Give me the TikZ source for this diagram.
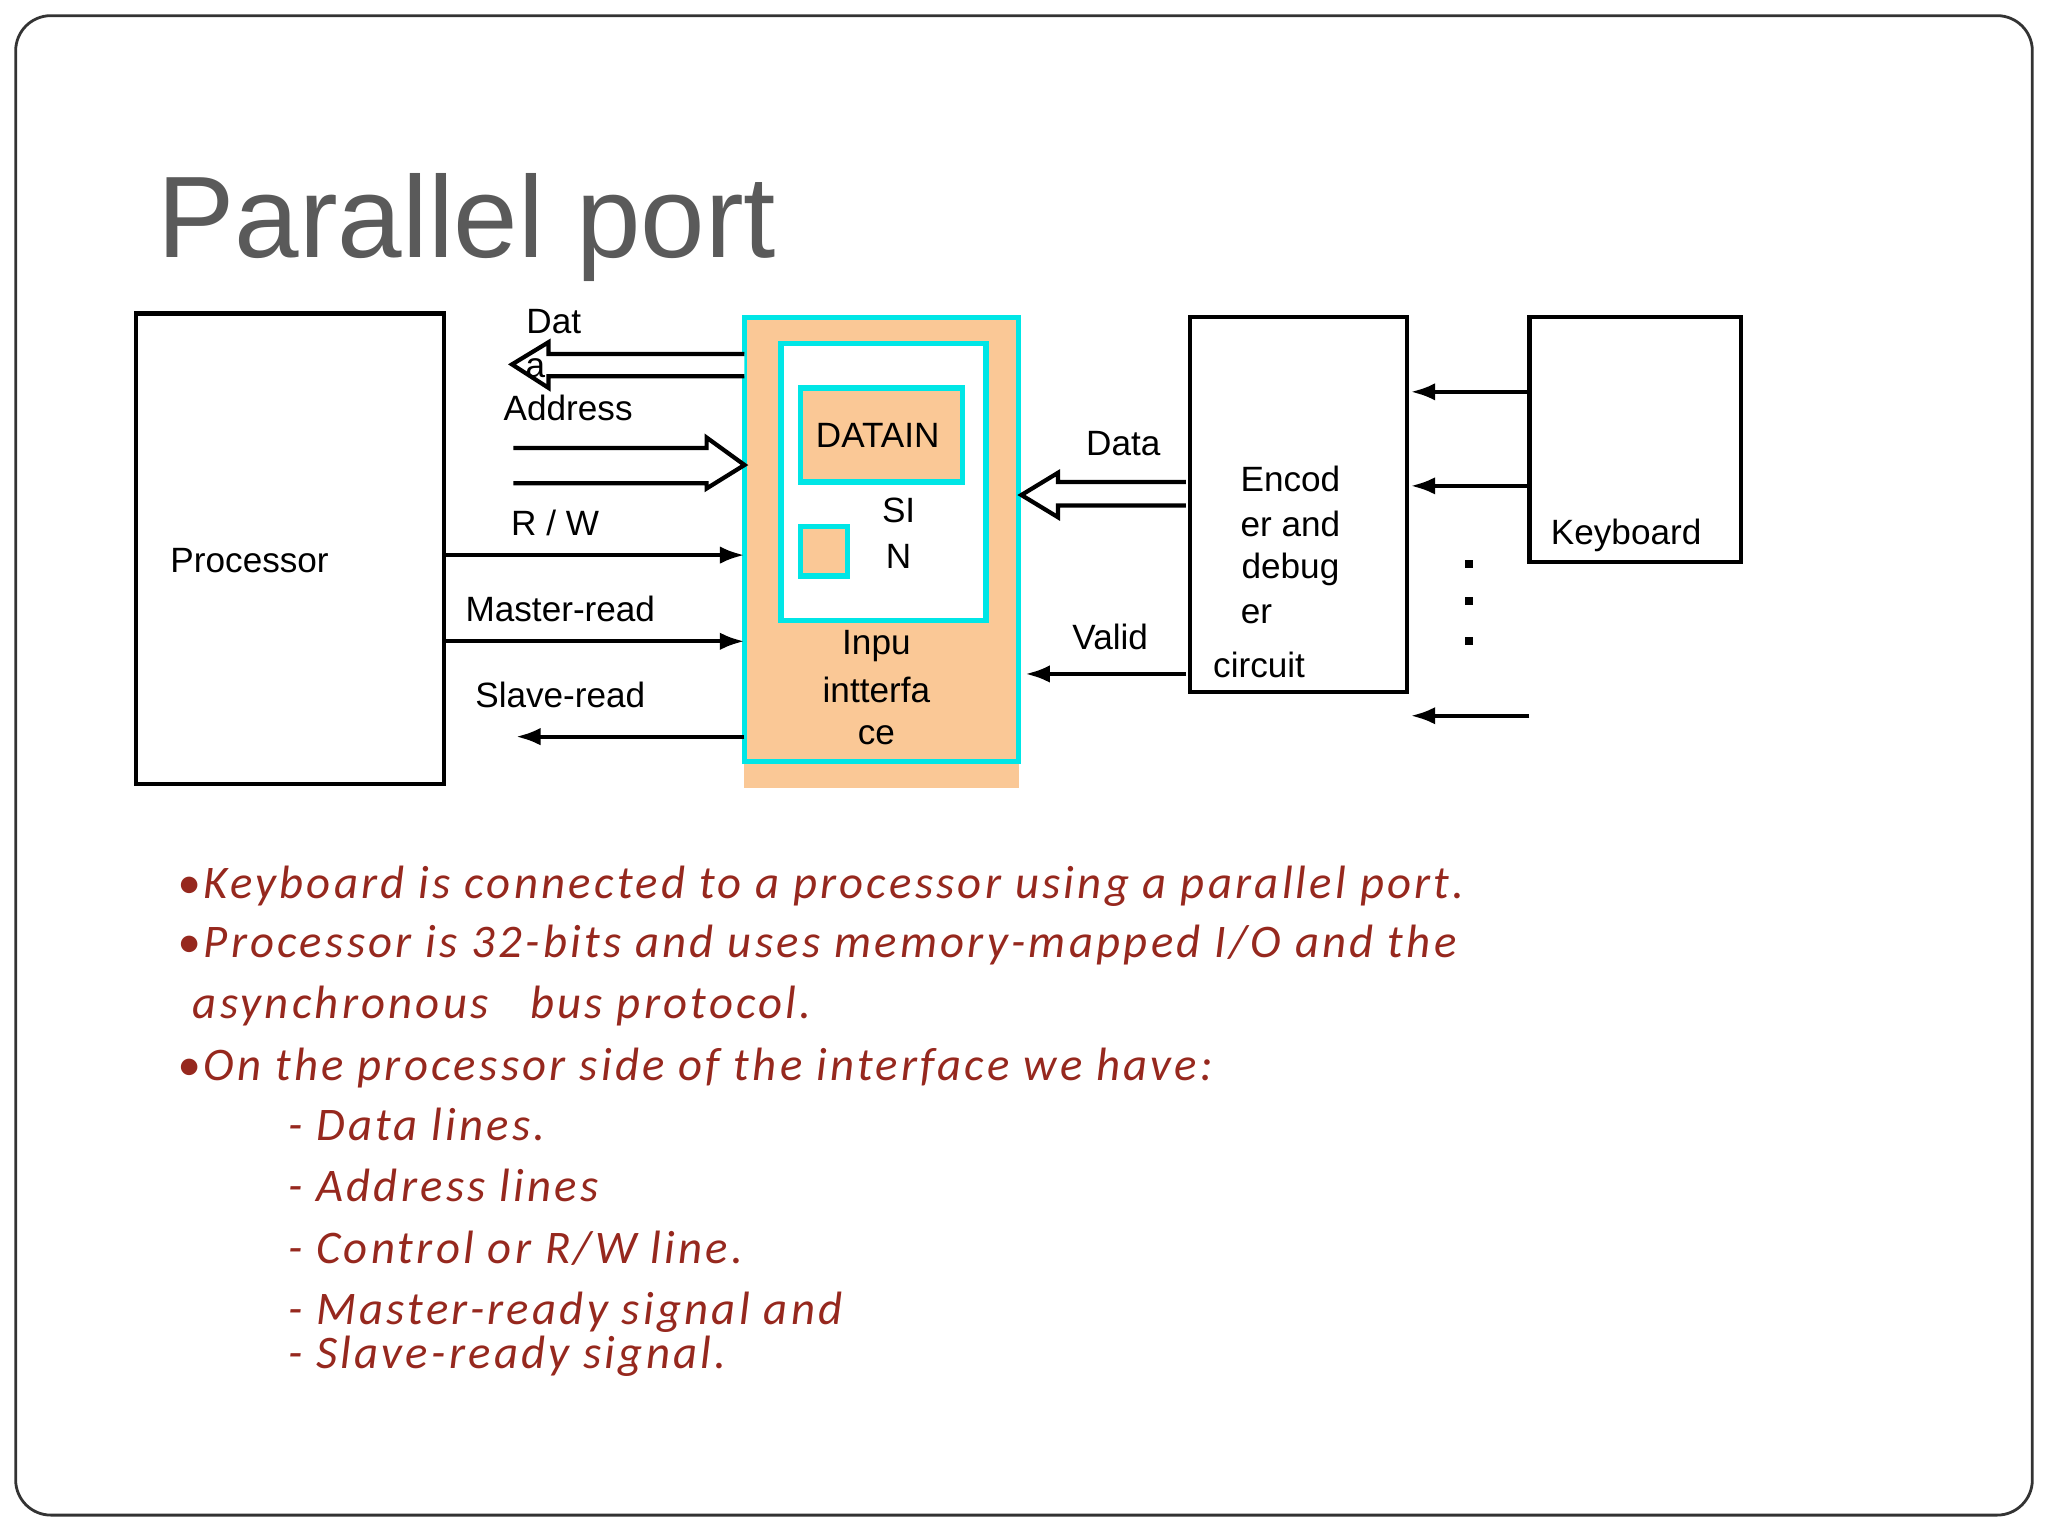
\documentclass[tikz,border=0pt]{standalone}
\usepackage{fontspec}
\setmainfont{Liberation Sans}
\newfontfamily\carl[LetterSpace=7]{Carlito}
\usetikzlibrary{arrows.meta}
\definecolor{orng}{RGB}{250,200,150}
\definecolor{cyn}{RGB}{0,230,230}
\definecolor{dred}{RGB}{150,40,30}
\definecolor{ttl}{RGB}{90,90,90}
\tikzset{
 lbl/.style={font=\fontsize{10}{12}\selectfont, inner sep=0pt},
 box/.style={draw=black, line width=1.2pt},
 sig/.style={line width=1.2pt, -{Latex[length=7pt,width=5pt]}},
 hollow/.style={draw=black, line width=1.2pt, fill=white},
 bul/.style={font=\carl\itshape\fontsize{13.3}{15}\selectfont, text=dred, anchor=base west, inner sep=0pt}
}
\begin{document}
\begin{tikzpicture}[x=0.01306cm,y=-0.01306cm]
\useasboundingbox (0,0) rectangle (1568,1176);
\draw[rounded corners=10pt, line width=0.8pt, draw=black!80] (12,12) rectangle (1556,1160);
\node[anchor=base west, inner sep=0pt, text=ttl, font=\fontsize{33}{36}\selectfont] (title) at (120,197) {Parallel port};
% Processor
\draw[box] (104,240) rectangle (340,600);
\node[lbl, anchor=base west] (proc) at (130,438) {Processor};
% Input interface
\fill[orng] (570,243) rectangle (780,603);
\draw[cyn, line width=1.5pt] (570,243) rectangle (780,583);
\draw[cyn, line width=1.5pt, fill=white] (598,263) rectangle (755,475);
\draw[cyn, line width=1.5pt, fill=orng] (613,297) rectangle (737,369);
\node[lbl] (datain) at (672,333) {DATAIN};
\draw[cyn, line width=1.5pt, fill=orng] (613,403) rectangle (649,441);
\node[lbl] (si) at (688,391) {SI};
\node[lbl] (n) at (688,426) {N};
\node[lbl] (i1) at (671,495) {Inpu};
\node[lbl] (i2) at (671,528) {intterfa};
\node[lbl] (i3) at (671,563) {ce};
% Data hollow arrow (left)
\draw[hollow] (570,271)--(420,271)--(420,262)--(392,279)--(420,297)--(420,288)--(570,288);
\node[lbl] (dat) at (424,246) {Dat};
\node[lbl] (a) at (410,282) {a};
% Address hollow arrow (right)
\draw[hollow] (393,343)--(541,343)--(541,335)--(570,356)--(541,374)--(541,370)--(393,370);
\node[lbl] (addr) at (435,312) {Address};
% control lines
\coordinate (rwS) at (340,425); \coordinate (rwE) at (570,425);
\draw[sig] (rwS)--(rwE);
\node[lbl] (rw) at (425,400) {R / W};
\coordinate (mrS) at (340,491); \coordinate (mrE) at (570,491);
\draw[sig] (mrS)--(mrE);
\node[lbl] (mr) at (429,466) {Master-read};
\coordinate (srS) at (570,564); \coordinate (srE) at (395,564);
\draw[sig] (srS)--(srE);
\node[lbl] (sr) at (429,532) {Slave-read};
% Encoder
\draw[box] (911,243) rectangle (1077,530);
\node[lbl] (e1) at (988,367) {Encod};
\node[lbl] (e2) at (988,401) {er and};
\node[lbl] (e3) at (988,436) {debug};
\node[lbl] (e4) at (962,470) {er};
\node[lbl] (e5) at (964,509) {circuit};
% Data hollow arrow to interface
\draw[hollow] (908,369)--(810,369)--(810,362)--(782,379)--(810,396)--(810,387)--(908,387);
\node[lbl] (data2) at (860,340) {Data};
\coordinate (vS) at (908,516); \coordinate (vE) at (785,516);
\draw[sig] (vS)--(vE);
\node[lbl] (valid) at (850,488) {Valid};
% Keyboard
\draw[box] (1171,243) rectangle (1333,430);
\node[lbl] (kb) at (1245,410) {Keyboard};
\foreach \yy in {300,372,548} \draw[sig] (1171,\yy)--(1080,\yy);
\foreach \yy in {432,460,491} \fill (1122,\yy-3) rectangle (1128,\yy+3);
% bullets
\node[bul] (b1) at (135,688) {\textbullet Keyboard is connected to a processor using a parallel port.};
\node[bul] (b2) at (135,733) {\textbullet Processor is 32-bits and uses memory-mapped I/O and the};
\node[bul] (b3) at (147,780) {asynchronous\ \ \ bus protocol.};
\node[bul] (b4) at (135,827) {\textbullet On the processor side of the interface we have:};
\node[bul] (b5) at (220,873) {- Data lines.};
\node[bul] (b6) at (220,920) {- Address lines};
\node[bul] (b7) at (220,967) {- Control or R/W line.};
\node[bul] (b8) at (220,1014) {- Master-ready signal and};
\node[bul] (b9) at (220,1048) {- Slave-ready signal.};
\end{tikzpicture}
\end{document}
